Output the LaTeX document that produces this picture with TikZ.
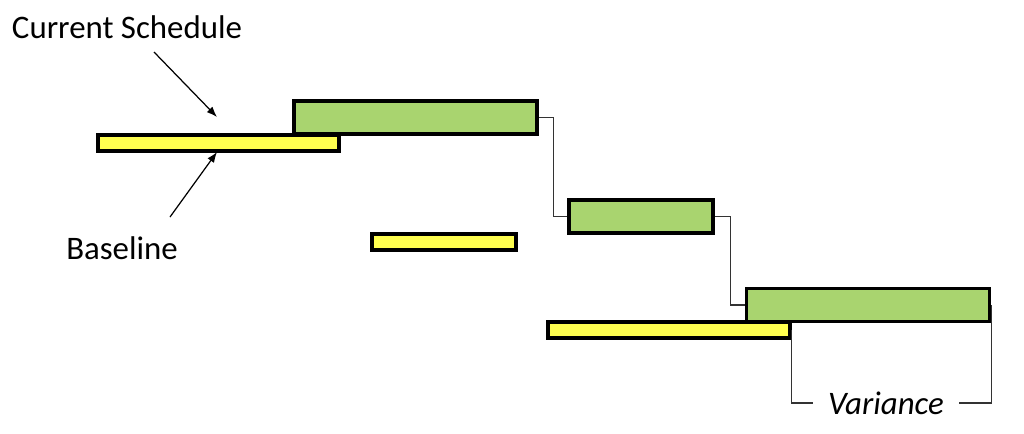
\documentclass[tikz,border=0pt]{standalone}
\usepackage{fontspec}
\setmainfont{Carlito}
\usepackage{tikz}
\usetikzlibrary{arrows.meta}
\definecolor{curgreen}{HTML}{A9D46F}
\definecolor{baseyellow}{HTML}{FFFF50}
\tikzset{
  current/.style={draw, line width=2pt, fill=curgreen, inner sep=0pt,
    minimum width=#1*0.02cm, minimum height=33*0.02cm},
  baseline/.style={draw, line width=2pt, fill=baseyellow, inner sep=0pt,
    minimum width=#1*0.02cm, minimum height=16*0.02cm},
  link/.style={line width=0.7pt, draw=black!80},
  pointer/.style={line width=0.7pt, -{Latex[length=6pt,width=4.5pt]}}
}
\begin{document}
\begin{tikzpicture}[x=0.02cm, y=-0.02cm]
      \useasboundingbox (0,0) rectangle (1024,433);
      % labels
      \node[font=\fontsize{18.7}{22}\selectfont] (cs) at (127,27) {Current Schedule};
      \node[font=\fontsize{18.7}{22}\selectfont] (bl) at (122,248) {Baseline};
      % baseline bars
      \node[baseline=241] (y1) at (218.5,143) {};
      \node[baseline=144] (y2) at (444,242) {};
      \node[baseline=242] (y3) at (669,330) {};
      % current schedule bars
      \node[current=243] (g1) at (415.5,117.5) {};
      \node[current=144] (g2) at (641,216.5) {};
      \node[current=243] (g3) at (868,305) {};
      % links between tasks
      \draw[link] (g1.east) -- ++(15,0) |- (g2.west);
      \draw[link] (g2.east) -- ++(16,0) |- (g3.west);
      % pointers
      \coordinate (cs from) at (154,52);
      \coordinate (cs to) at (217,117);
      \coordinate (bl from) at (170,217);
      \coordinate (bl to) at (217,152);
      \draw[pointer] (cs from) -- (cs to);
      \draw[pointer] (bl from) -- (bl to);
      % variance
      \node[font=\fontsize{18.7}{22}\selectfont\itshape, inner xsep=0.3cm] (var) at (886,403) {Variance};
      \draw[link] (y3.east) |- (var.west);
      \draw[link] (g3.east) |- (var.east);
\end{tikzpicture}
\end{document}
